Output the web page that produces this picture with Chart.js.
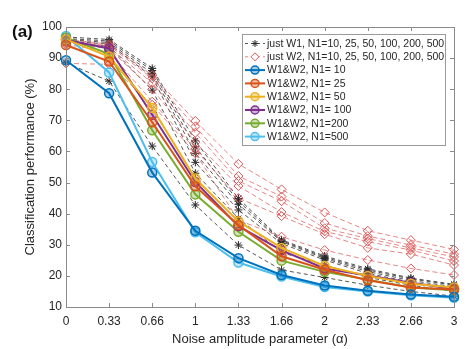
<!DOCTYPE html>
<html>
<head>
<meta charset="utf-8">
<script src="https://cdn.jsdelivr.net/npm/chart.js@4/dist/chart.umd.min.js"></script>
<style>
  html, body { margin: 0; padding: 0; background: #fff; }
  #wrap { width: 474px; height: 349px; }
</style>
</head>
<body>
<div id="wrap"><canvas id="chart" width="474" height="349"></canvas></div>
<script>
const noiseLabels = ['0', '0.33', '0.66', '1', '1.33', '1.66', '2', '2.33', '2.66', '3'];
const yTicks = [10, 20, 30, 40, 50, 60, 70, 80, 90, 100];

// just W1 (black dashed, asterisks), N1 = 10, 25, 50, 100, 200, 500
const w1N10  = [88.5, 82.6, 61.7, 42.8, 29.9, 21.9, 19.5, 17.0, 15.0, 13.5];
const w1N25  = [95.0, 93.8, 79.7, 53.0, 38.5, 27.5, 23.5, 19.5, 17.0, 15.0];
const w1N50  = [95.5, 94.5, 84.0, 56.5, 41.2, 30.4, 25.1, 20.8, 18.0, 16.0];
const w1N100 = [96.0, 95.0, 85.1, 59.4, 43.0, 31.0, 25.6, 21.4, 18.5, 16.5];
const w1N200 = [96.3, 95.5, 86.0, 61.5, 44.0, 31.3, 26.0, 21.9, 19.0, 17.0];
const w1N500 = [96.8, 96.0, 86.7, 63.4, 44.9, 31.6, 26.4, 22.3, 19.3, 17.3];

// just W2 (red dashed, diamonds)
const w2N10  = [88.3, 88.0, 75.0, 59.4, 37.9, 32.6, 28.3, 25.1, 22.4, 20.3];
const w2N25  = [94.5, 92.0, 76.0, 60.7, 45.0, 39.2, 33.4, 29.0, 27.0, 23.5];
const w2N50  = [95.0, 93.0, 80.0, 63.0, 48.9, 40.5, 34.3, 31.0, 28.3, 24.8];
const w2N100 = [95.5, 93.5, 82.0, 66.0, 50.5, 44.0, 35.3, 32.0, 29.0, 26.1];
const w2N200 = [95.5, 94.0, 83.5, 68.0, 52.1, 45.5, 37.0, 32.8, 29.9, 27.0];
const w2N500 = [96.0, 94.5, 84.5, 69.8, 56.0, 47.8, 40.4, 34.5, 31.5, 28.5];

// W1&W2 (solid, circles)
const bothN10  = [89.3, 78.7, 53.2, 34.5, 25.7, 20.3, 16.9, 15.2, 14.0, 13.3];
const bothN25  = [94.2, 88.9, 69.4, 48.8, 36.3, 26.3, 22.0, 18.6, 16.3, 15.6];
const bothN50  = [96.0, 90.5, 74.0, 51.3, 37.5, 29.0, 23.2, 20.0, 17.5, 16.3];
const bothN100 = [95.8, 93.1, 71.8, 50.2, 36.0, 28.2, 22.4, 20.1, 17.8, 15.8];
const bothN200 = [96.6, 91.3, 66.8, 46.2, 34.2, 24.9, 21.3, 18.8, 16.3, 15.4];
const bothN500 = [97.1, 85.4, 56.6, 34.0, 24.3, 19.8, 16.4, 15.0, 13.8, 13.0];

const FONT = "'Liberation Sans', Arial, sans-serif";
const TEXT = '#262626';
const BLACK = '#2a2a2a';
const RED = '#dc5656';

const bothSeries = [
    { label: 'W1&W2, N1= 10',  data: bothN10,  color: '#0072BD' },
    { label: 'W1&W2, N1= 25',  data: bothN25,  color: '#D95319' },
    { label: 'W1&W2, N1= 50',  data: bothN50,  color: '#EDB120' },
    { label: 'W1&W2, N1= 100', data: bothN100, color: '#7E2F8E' },
    { label: 'W1&W2, N1=200',  data: bothN200, color: '#77AC30' },
    { label: 'W1&W2, N1=500',  data: bothN500, color: '#4DBEEE' }
];

function lighten(hex, a) {
    const n = parseInt(hex.slice(1), 16);
    return `rgba(${n >> 16},${(n >> 8) & 255},${n & 255},${a})`;
}

const datasets = [];

[w1N10, w1N25, w1N50, w1N100, w1N200, w1N500].forEach(d => {
    datasets.push({
        data: d,
        borderColor: BLACK,
        borderWidth: 0.8,
        borderDash: [4, 3],
        pointStyle: 'star',
        pointRadius: 4,
        pointBorderColor: BLACK,
        pointBorderWidth: 1,
        order: 3
    });
});

[w2N10, w2N25, w2N50, w2N100, w2N200, w2N500].forEach(d => {
    datasets.push({
        data: d,
        borderColor: lighten(RED, 0.8),
        borderWidth: 0.9,
        borderDash: [5, 3],
        pointStyle: 'rectRot',
        pointRadius: 4.5,
        pointBorderColor: RED,
        pointBackgroundColor: 'rgba(255,255,255,0)',
        pointBorderWidth: 1,
        order: 2
    });
});

bothSeries.forEach(s => {
    datasets.push({
        data: s.data,
        borderColor: s.color,
        borderWidth: 2,
        pointStyle: 'circle',
        pointRadius: 4.5,
        pointBorderColor: s.color,
        pointBackgroundColor: lighten(s.color, 0.35),
        pointBorderWidth: 1.5,
        order: 1
    });
});

function drawMarker(ctx, style, x, y, color) {
    ctx.save();
    ctx.strokeStyle = color;
    ctx.setLineDash([]);
    ctx.beginPath();
    if (style === 'star') {
        ctx.lineWidth = 1;
        const r = 3.5;
        for (let k = 0; k < 4; k++) {
            const ang = k * Math.PI / 4;
            ctx.moveTo(x - r * Math.cos(ang), y - r * Math.sin(ang));
            ctx.lineTo(x + r * Math.cos(ang), y + r * Math.sin(ang));
        }
        ctx.stroke();
    } else if (style === 'diamond') {
        ctx.lineWidth = 1;
        ctx.fillStyle = '#fff';
        ctx.moveTo(x, y - 4); ctx.lineTo(x + 4, y); ctx.lineTo(x, y + 4); ctx.lineTo(x - 4, y);
        ctx.closePath();
        ctx.fill(); ctx.stroke();
    } else {
        ctx.lineWidth = 1.5;
        ctx.fillStyle = lighten(color, 0.35);
        ctx.arc(x, y, 4, 0, Math.PI * 2);
        ctx.fill(); ctx.stroke();
    }
    ctx.restore();
}

const framePlugin = {
    id: 'frame',
    afterDraw(chart) {
        const { ctx, chartArea: a, scales: { x, y } } = chart;
        ctx.save();

        // axes box + inward ticks
        ctx.strokeStyle = '#8a8a8a';
        ctx.lineWidth = 1;
        ctx.strokeRect(Math.round(a.left) + 0.5, Math.round(a.top) + 0.5,
            Math.round(a.right - a.left), Math.round(a.bottom - a.top));
        ctx.beginPath();
        noiseLabels.forEach((_, i) => {
            const px = Math.round(x.getPixelForTick(i)) + 0.5;
            ctx.moveTo(px, a.bottom); ctx.lineTo(px, a.bottom - 4);
            ctx.moveTo(px, a.top);    ctx.lineTo(px, a.top + 4);
        });
        yTicks.forEach(v => {
            const py = Math.round(y.getPixelForValue(v)) + 0.5;
            ctx.moveTo(a.left, py);  ctx.lineTo(a.left + 4, py);
            ctx.moveTo(a.right, py); ctx.lineTo(a.right - 4, py);
        });
        ctx.stroke();

        // legend
        const lx = 242, ly = 34, lw = 203, lh = 111;
        ctx.fillStyle = '#fff';
        ctx.fillRect(lx, ly, lw, lh);
        ctx.strokeStyle = '#9a9a9a';
        ctx.strokeRect(lx + 0.5, ly + 0.5, lw, lh);

        const rows = [
            { text: 'just W1, N1=10, 25, 50, 100, 200, 500', color: BLACK, dash: [3, 3], marker: 'star', lineColor: BLACK, width: 0.8 },
            { text: 'just W2, N1=10, 25, 50, 100, 200, 500', color: RED, dash: [3, 3], marker: 'diamond', lineColor: lighten(RED, 0.8), width: 0.9 }
        ].concat(bothSeries.map(s => ({ text: s.label, color: s.color, dash: [], marker: 'circle', lineColor: s.color, width: 2 })));

        ctx.font = `10.5px ${FONT}`;
        ctx.textBaseline = 'middle';
        rows.forEach((r, i) => {
            const cy = ly + 9.5 + i * 13.3;
            ctx.save();
            ctx.strokeStyle = r.lineColor;
            ctx.lineWidth = r.width;
            ctx.setLineDash(r.dash);
            ctx.beginPath();
            ctx.moveTo(lx + 3, cy); ctx.lineTo(lx + 23, cy);
            ctx.stroke();
            ctx.restore();
            drawMarker(ctx, r.marker, lx + 13, cy, r.color);
            ctx.fillStyle = TEXT;
            ctx.fillText(r.text, lx + 25, cy + 0.5);
        });

        // panel label
        ctx.font = `bold 17px ${FONT}`;
        ctx.fillStyle = '#111';
        ctx.textBaseline = 'middle';
        ctx.fillText('(a)', 12, 32);

        ctx.restore();
    }
};

new Chart(document.getElementById('chart'), {
    type: 'line',
    data: { labels: noiseLabels, datasets },
    options: {
        responsive: false,
        animation: false,
        devicePixelRatio: 1,
        layout: { padding: { left: 0, right: 20, top: 27, bottom: 0 } },
        plugins: { legend: { display: false }, tooltip: { enabled: false } },
        scales: {
            x: {
                type: 'category',
                offset: false,
                grid: { display: false, drawTicks: false },
                border: { display: false },
                ticks: { color: TEXT, font: { family: FONT, size: 12 }, padding: 7, maxRotation: 0, autoSkip: false },
                title: { display: true, text: 'Noise amplitude parameter (α)', color: TEXT,
                         font: { family: FONT, size: 13 }, padding: { top: 0, bottom: 2 } },
                afterFit: s => { s.height = 42; }
            },
            y: {
                min: 10,
                max: 100,
                grid: { display: false, drawTicks: false },
                border: { display: false },
                afterBuildTicks: s => { s.ticks = yTicks.map(v => ({ value: v })); },
                ticks: { color: TEXT, font: { family: FONT, size: 12 }, padding: 4 },
                title: { display: true, text: 'Classification performance (%)', color: TEXT,
                         font: { family: FONT, size: 13 }, padding: { top: 23, bottom: 0 } },
                afterFit: s => { s.width = 66; }
            }
        }
    },
    plugins: [framePlugin]
});
</script>
</body>
</html>
